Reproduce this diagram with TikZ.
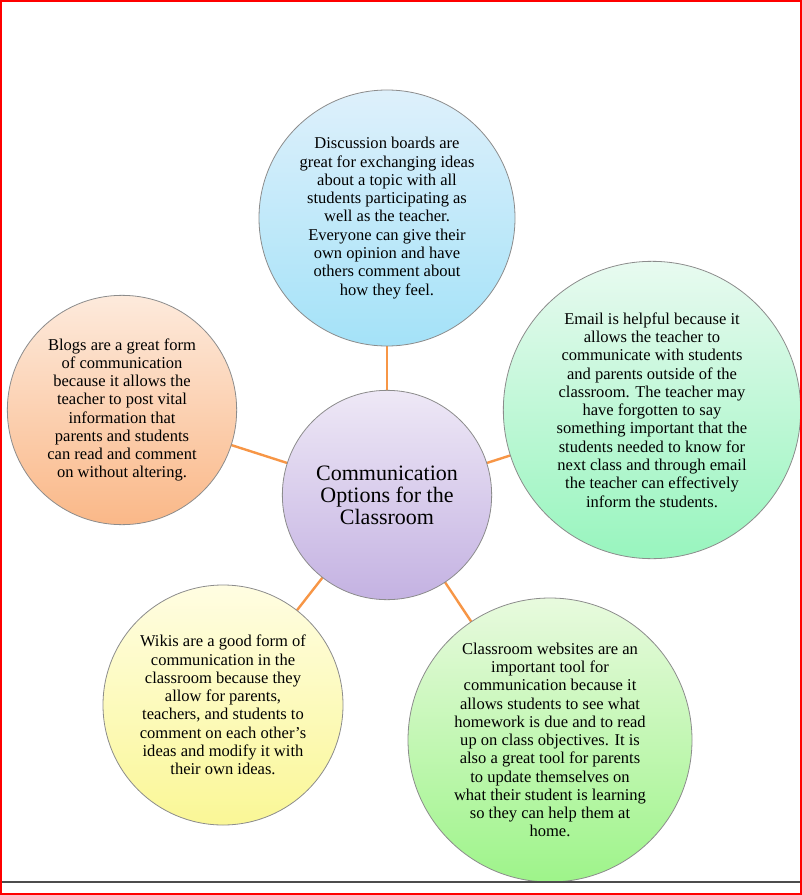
\documentclass[tikz,border=0pt]{standalone}
\usepackage{fontspec}
\setmainfont{Liberation Serif}
\usetikzlibrary{backgrounds}
\definecolor{linkc}{RGB}{247,150,70}
\begin{document}
\begin{tikzpicture}[x=0.75pt,y=-0.75pt,
  bub/.style={circle,draw=black!45,line width=0.6pt,inner sep=0pt,align=center,font=\fontsize{12.4}{13.7}\selectfont},
  link/.style={draw=linkc,line width=1.8pt}]
\useasboundingbox (0,0) rectangle (802,895);
\node[bub,minimum size=192pt,top color={rgb,255:red,222;green,240;blue,251},bottom color={rgb,255:red,164;green,226;blue,248}] (t) at (387,218) {Discussion boards are\\great for exchanging ideas\\about a topic with all\\students participating as\\well as the teacher.\\Everyone can give their\\own opinion and have\\others comment about\\how they feel.};
\node[bub,minimum size=223pt,top color={rgb,255:red,232;green,250;blue,240},bottom color={rgb,255:red,152;green,245;blue,190}] (r) at (652,410) {Email is helpful because it\\allows the teacher to\\communicate with students\\and parents outside of the\\classroom. The teacher may\\have forgotten to say\\something important that the\\students needed to know for\\next class and through email\\the teacher can effectively\\inform the students.};
\node[bub,minimum size=172pt,top color={rgb,255:red,253;green,234;blue,220},bottom color={rgb,255:red,250;green,184;blue,136}] (l) at (122,410) {Blogs are a great form\\of communication\\because it allows the\\teacher to post vital\\information that\\parents and students\\can read and comment\\on without altering.};
\node[bub,minimum size=180pt,top color={rgb,255:red,255;green,253;blue,226},bottom color={rgb,255:red,250;green,247;blue,150}] (bl) at (223,705) {Wikis are a good form of\\communication in the\\classroom because they\\allow for parents,\\teachers, and students to\\comment on each other’s\\ideas and modify it with\\their own ideas.};
\node[bub,minimum size=213pt,top color={rgb,255:red,232;green,250;blue,222},bottom color={rgb,255:red,158;green,244;blue,138}] (br) at (550,740) {Classroom websites are an\\important tool for\\communication because it\\allows students to see what\\homework is due and to read\\up on class objectives. It is\\also a great tool for parents\\to update themselves on\\what their student is learning\\so they can help them at\\home.};
\node[bub,minimum size=157pt,top color={rgb,255:red,238;green,232;blue,246},bottom color={rgb,255:red,196;green,178;blue,226},font=\fontsize{16.5}{16.5}\selectfont] (c) at (387,495) {Communication\\Options for the\\Classroom};
\begin{pgfonlayer}{background}
\fill[white] (0,0) rectangle (802,895);
\foreach \n in {t,r,l,bl,br} \draw[link] (c.center) -- (\n.center);
\end{pgfonlayer}
\draw[red,line width=2pt] (1,1) rectangle (801,894);
\draw[black!70,line width=0.8pt] (2,882) -- (800,882);
\end{tikzpicture}
\end{document}
